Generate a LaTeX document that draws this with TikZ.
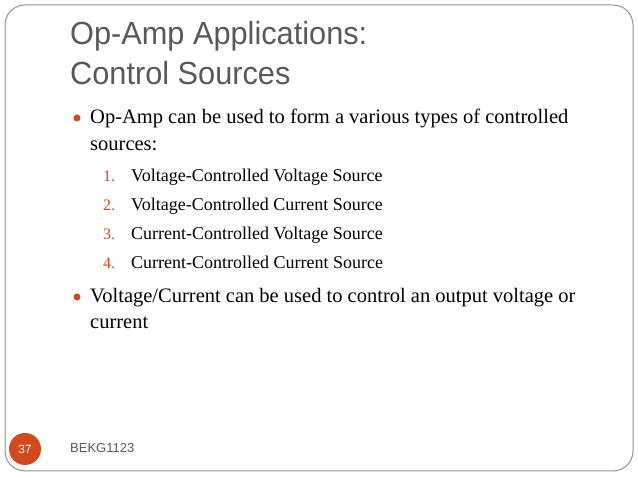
\documentclass[tikz,border=0pt]{standalone}
\usepackage{fontspec}
\setmainfont{Liberation Serif}
\newfontfamily\titlefont{Liberation Sans}
\definecolor{acc}{HTML}{D24A1C}
\definecolor{tgray}{HTML}{595959}
\begin{document}
\begin{tikzpicture}[x=1pt,y=-1pt,
  txt/.style={anchor=base west,inner sep=0pt,font=\fontsize{20.5}{24}\selectfont},
  sub/.style={anchor=base west,inner sep=0pt,font=\fontsize{18}{21}\selectfont},
  num/.style={anchor=base west,inner sep=0pt,text=acc,font=\fontsize{16}{19}\selectfont},
  ttl/.style={anchor=base west,inner sep=0pt,text=tgray,font=\titlefont\fontsize{32}{36}\selectfont},
  dot/.style={circle,fill=acc,inner sep=0pt,minimum size=7pt}]
\useasboundingbox (0,0) rectangle (638,478);
\fill[white] (0,0) rectangle (638,478);
\draw[gray!85,line width=1pt,rounded corners=20pt] (5,5) rectangle (633,471);
\node[ttl] (t1) at (70,45) {\scalebox{0.96}[1]{Op-Amp Applications:}};
\node[ttl] (t2) at (70,85) {\scalebox{0.96}[1]{Control Sources}};
\node[dot] (b1) at (77,118) {};
\node[txt] (l1) at (90,124) {Op-Amp can be used to form a various types of controlled};
\node[txt] (l2) at (90,151) {sources:};
\node[num] (n1) at (103,182) {1.};
\node[sub] (s1) at (131,182) {Voltage-Controlled Voltage Source};
\node[num] (n2) at (103,211) {2.};
\node[sub] (s2) at (131,211) {Voltage-Controlled Current Source};
\node[num] (n3) at (103,240) {3.};
\node[sub] (s3) at (131,240) {Current-Controlled Voltage Source};
\node[num] (n4) at (103,269) {4.};
\node[sub] (s4) at (131,269) {Current-Controlled Current Source};
\node[dot] (b2) at (77,297) {};
\node[txt] (l3) at (90,303) {Voltage/Current can be used to control an output voltage or};
\node[txt] (l4) at (90,329) {current};
\node[circle,fill=acc,minimum size=32pt,inner sep=0pt,text=white,font=\titlefont\fontsize{12}{14}\selectfont] (pg) at (25,449) {37};
\node[anchor=west,inner sep=0pt,text=tgray,font=\titlefont\fontsize{13}{15}\selectfont] (ft) at (70,448) {BEKG1123};
\end{tikzpicture}
\end{document}
